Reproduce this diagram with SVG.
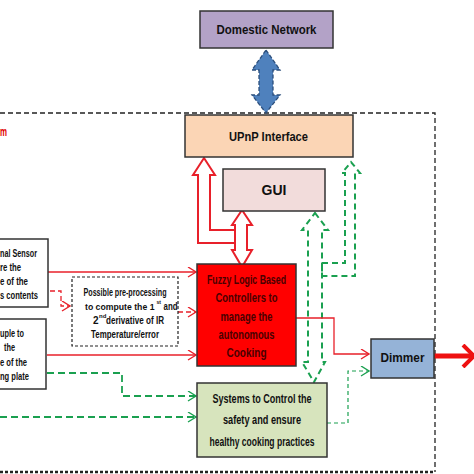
<svg xmlns="http://www.w3.org/2000/svg" width="474" height="474" viewBox="0 0 474 474">
<defs>
<marker id="ar" markerUnits="userSpaceOnUse" markerWidth="12" markerHeight="12" refX="9" refY="5" orient="auto"><path d="M1,0 L9,5 L1,10" fill="none" stroke="#e8202a" stroke-width="1.4"/></marker>
<marker id="ag" markerUnits="userSpaceOnUse" markerWidth="12" markerHeight="12" refX="9" refY="5" orient="auto"><path d="M1,0 L9,5 L1,10" fill="none" stroke="#1aa050" stroke-width="1.4"/></marker>
<marker id="abig" markerUnits="userSpaceOnUse" markerWidth="16" markerHeight="24" refX="13" refY="12" orient="auto"><path d="M2,1 L13,12 L2,23" fill="none" stroke="#ee1111" stroke-width="4"/></marker>
</defs>
<style>
.t{font-family:"Liberation Sans",Arial,sans-serif;font-weight:bold;fill:#111;}
.box{stroke:#333;stroke-width:1.5;}
.rl{fill:none;stroke:#e8202a;stroke-width:1.3;}
.rd{fill:none;stroke:#e8202a;stroke-width:1.3;stroke-dasharray:5 3;}
.gd{fill:none;stroke:#1aa050;stroke-width:1.8;stroke-dasharray:7 4;}
.gt{fill:none;stroke:#1aa050;stroke-width:1.2;stroke-dasharray:4 3;}
.hr{fill:#fff;stroke:#e8202a;stroke-width:2;}
.hg{fill:none;stroke:#1aa050;stroke-width:2;stroke-dasharray:6 4;}
</style>
<rect width="474" height="474" fill="#fff"/>
<g id="boundary">
<path d="M0,113 H435 V472" fill="none" stroke="#222" stroke-width="1.3" stroke-dasharray="5 3"/>
<path d="M0,472 H435" fill="none" stroke="#222" stroke-width="2.5" stroke-dasharray="3 2"/>
<text class="t" x="0" y="136" font-size="12" textLength="7" lengthAdjust="spacingAndGlyphs" style="fill:#e00000">m</text>
</g>
<g id="connectors">
<polygon points="266,50 280,70 273,70 273,95 280,95 266,113 252,95 259,95 259,70 252,70" fill="#4f81bd" stroke="#2c4f7c" stroke-width="1.3" stroke-dasharray="4 2"/>
<polygon class="hr" points="204,158 215,175 210,175 210,230 235,230 235,243 198,243 198,175 193,175"/>
<polygon class="hr" points="242,210 252,225 247,225 247,250 252,250 242,267 232,250 235,250 235,225 232,225"/>
<polygon class="hg" points="315,213 328,230 322,230 322,362 325,362 314,382 302,362 308,362 308,230 302,230"/>
<polygon class="hg" points="322,263 345,263 345,173 342,173 351,162 360,173 355,173 355,276 322,276"/>
<path class="rl" d="M48,272 H196" marker-end="url(#ar)"/>
<path class="rd" d="M50,291 H61 V306 H70" marker-end="url(#ar)"/>
<path class="rd" d="M178,312 H196" marker-end="url(#ar)"/>
<path class="rl" d="M47,355 H196" marker-end="url(#ar)"/>
<path class="gd" d="M47,373 H122 V396 H196" marker-end="url(#ag)"/>
<path class="gd" d="M0,417 H196" marker-end="url(#ag)"/>
<path class="rl" d="M296,318 H334 V354 H369" marker-end="url(#ar)"/>
<path class="gt" d="M327,423 H348 V371 H369" marker-end="url(#ag)"/>
<path d="M434,356 H474" fill="none" stroke="#ee1111" stroke-width="5" marker-end="url(#abig)"/>
</g>
<g id="domestic">
<rect class="box" x="200" y="11" width="133" height="37" fill="#b3a2c7"/>
<text class="t" x="266.5" y="34" font-size="13.5" text-anchor="middle" textLength="100" lengthAdjust="spacingAndGlyphs">Domestic Network</text>
</g>
<g id="upnp">
<rect class="box" x="185" y="115" width="168" height="42" fill="#fbd5b5"/>
<text class="t" x="268.5" y="141" font-size="13.5" text-anchor="middle" textLength="79" lengthAdjust="spacingAndGlyphs">UPnP Interface</text>
</g>
<g id="gui">
<rect class="box" x="223" y="169" width="102" height="42" fill="#f2dcdb"/>
<text class="t" x="274" y="195" font-size="14" text-anchor="middle">GUI</text>
</g>
<g id="thermal">
<rect class="box" x="-2" y="239" width="50" height="68" fill="#fff"/>
<g class="t" font-size="10.5">
<text x="0" y="257" textLength="37" lengthAdjust="spacingAndGlyphs">nal Sensor</text>
<text x="0" y="271" textLength="21" lengthAdjust="spacingAndGlyphs">re the</text>
<text x="0" y="285" textLength="28" lengthAdjust="spacingAndGlyphs">e of the</text>
<text x="0" y="299" textLength="38" lengthAdjust="spacingAndGlyphs">s contents</text>
</g>
</g>
<g id="thermocouple">
<rect class="box" x="-2" y="319" width="48" height="70" fill="#fff"/>
<g class="t" font-size="10.5">
<text x="0" y="337" textLength="24" lengthAdjust="spacingAndGlyphs">uple to</text>
<text x="4" y="351" textLength="11" lengthAdjust="spacingAndGlyphs">the</text>
<text x="0" y="366" textLength="27" lengthAdjust="spacingAndGlyphs">e of the</text>
<text x="0" y="380" textLength="29" lengthAdjust="spacingAndGlyphs">ng plate</text>
</g>
</g>
<g id="preprocessing">
<rect x="72" y="277" width="106" height="69" fill="#fff" stroke="#222" stroke-width="1.2" stroke-dasharray="3 2"/>
<g class="t" font-size="10">
<text x="125" y="296" text-anchor="middle" textLength="83" lengthAdjust="spacingAndGlyphs">Possible pre-processing</text>
<text x="85" y="310" font-size="8.7">to compute the 1</text>
<text x="156.5" y="304" font-size="6" textLength="4.5" lengthAdjust="spacingAndGlyphs">st</text>
<text x="163.5" y="310" textLength="14" lengthAdjust="spacingAndGlyphs">and</text>
<text x="93" y="324">2</text>
<text x="99" y="318" font-size="6">nd</text>
<text x="106" y="324" textLength="58" lengthAdjust="spacingAndGlyphs">derivative of IR</text>
<text x="125" y="338" text-anchor="middle" textLength="68" lengthAdjust="spacingAndGlyphs">Temperature/error</text>
</g>
</g>
<g id="fuzzy">
<rect class="box" x="197" y="264" width="99" height="102" fill="#ff0000"/>
<g font-family="Liberation Sans, Arial, sans-serif" font-weight="bold" font-size="12.5" text-anchor="middle" fill="#4a0000">
<text x="246.5" y="284" textLength="79" lengthAdjust="spacingAndGlyphs">Fuzzy Logic Based</text>
<text x="246.5" y="302" textLength="62" lengthAdjust="spacingAndGlyphs">Controllers to</text>
<text x="246.5" y="321" textLength="52" lengthAdjust="spacingAndGlyphs">manage the</text>
<text x="246.5" y="339" textLength="56" lengthAdjust="spacingAndGlyphs">autonomous</text>
<text x="246.5" y="357" textLength="40" lengthAdjust="spacingAndGlyphs">Cooking</text>
</g>
</g>
<g id="dimmer">
<rect class="box" x="371" y="339" width="63" height="39" fill="#95b3d7"/>
<text class="t" x="402.5" y="362" font-size="12.5" text-anchor="middle" textLength="44" lengthAdjust="spacingAndGlyphs">Dimmer</text>
</g>
<g id="safety">
<rect class="box" x="197" y="383" width="130" height="74" fill="#d7e4bd"/>
<g class="t" font-size="12.5" text-anchor="middle">
<text x="262" y="403" textLength="99" lengthAdjust="spacingAndGlyphs">Systems to Control the</text>
<text x="262" y="424" textLength="78" lengthAdjust="spacingAndGlyphs">safety and ensure</text>
<text x="262" y="446" textLength="105" lengthAdjust="spacingAndGlyphs">healthy cooking practices</text>
</g>
</g>
</svg>
